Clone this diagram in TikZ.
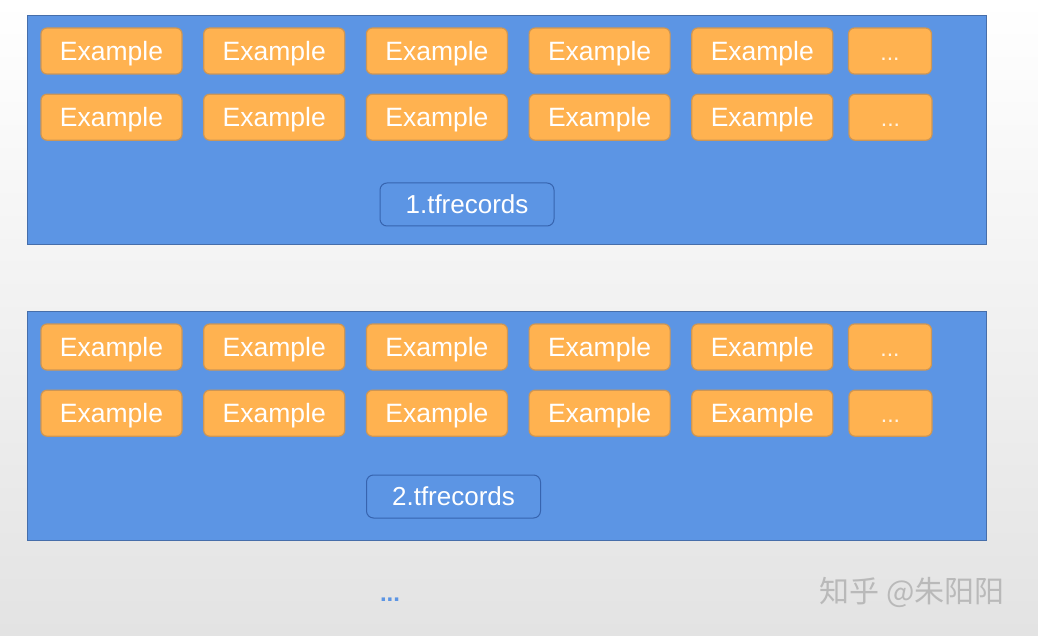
\documentclass[tikz,border=0pt]{standalone}
\usepackage{fontspec}
\setmainfont{Liberation Sans}
\newfontfamily\cjkfont{Noto Sans CJK SC}
\usepackage{xcolor}
\usetikzlibrary{positioning}
\definecolor{fileblue}{RGB}{92,149,228}
\definecolor{fileedge}{RGB}{70,110,170}
\definecolor{exorange}{RGB}{255,178,80}
\definecolor{exedge}{RGB}{205,150,85}
\definecolor{tagedge}{RGB}{55,100,175}
\tikzset{
  filebox/.style={rectangle, draw=fileedge, fill=fileblue, line width=0.8pt,
                  minimum width=959pt, minimum height=229pt, inner sep=0pt},
  example/.style={rectangle, draw=exedge, fill=exorange, rounded corners=6pt,
                  line width=1.2pt, minimum width=141pt, minimum height=46pt,
                  inner sep=0pt, text height=19.5pt, text depth=0pt,
                  text=white, font=\fontsize{26.5}{28}\selectfont},
  moreex/.style={example, minimum width=83pt, text=white!85!exorange,
                 font=\fontsize{23}{25}\selectfont},
  filetag/.style={rectangle, draw=tagedge, rounded corners=7pt, line width=1pt,
                  minimum width=174pt, minimum height=43pt, inner sep=0pt,
                  text=white, font=\fontsize{26}{28}\selectfont},
}

\begin{document}
\begin{tikzpicture}[x=1pt, y=1pt, node distance=19pt and 20.5pt]
  \useasboundingbox (0,0) rectangle (1038,-636);
  \fill[top color=white, bottom color=gray!22] (0,0) rectangle (1038,-636);

  % --- first file ---
  \node[filebox] (file1) at (506.5,-129.5) {};
  \node[example] (a11) at (111.5,-51) {Example};
  \node[example, right=of a11] (a12) {Example};
  \node[example, right=of a12] (a13) {Example};
  \node[example, right=of a13] (a14) {Example};
  \node[example, right=of a14] (a15) {Example};
  \node[moreex, right=14.5pt of a15] (a16) {...};
  \node[example, below=of a11] (a21) {Example};
  \node[example, right=of a21] (a22) {Example};
  \node[example, right=of a22] (a23) {Example};
  \node[example, right=of a23] (a24) {Example};
  \node[example, right=of a24] (a25) {Example};
  \node[moreex, right=15pt of a25] (a26) {...};
  \node[filetag] (tag1) at (467,-204.5) {1.tfrecords};

  % --- second file ---
  \node[filebox] (file2) at (506.5,-425.5) {};
  \node[example] (b11) at (111.5,-347) {Example};
  \node[example, right=of b11] (b12) {Example};
  \node[example, right=of b12] (b13) {Example};
  \node[example, right=of b13] (b14) {Example};
  \node[example, right=of b14] (b15) {Example};
  \node[moreex, right=14.5pt of b15] (b16) {...};
  \node[example, below=of b11] (b21) {Example};
  \node[example, right=of b21] (b22) {Example};
  \node[example, right=of b22] (b23) {Example};
  \node[example, right=of b23] (b24) {Example};
  \node[example, right=of b24] (b25) {Example};
  \node[moreex, right=15pt of b25] (b26) {...};
  \node[filetag] (tag2) at (453.5,-496.5) {2.tfrecords};

  % --- more files ---
  \node[text=fileblue, font=\fontsize{24}{26}\selectfont\bfseries] (more) at (390,-600) {...};
  \node[text=gray!55, font=\cjkfont\fontsize{30}{32}\selectfont] (mark) at (912,-592) {知乎 @朱阳阳};
\end{tikzpicture}
\end{document}
